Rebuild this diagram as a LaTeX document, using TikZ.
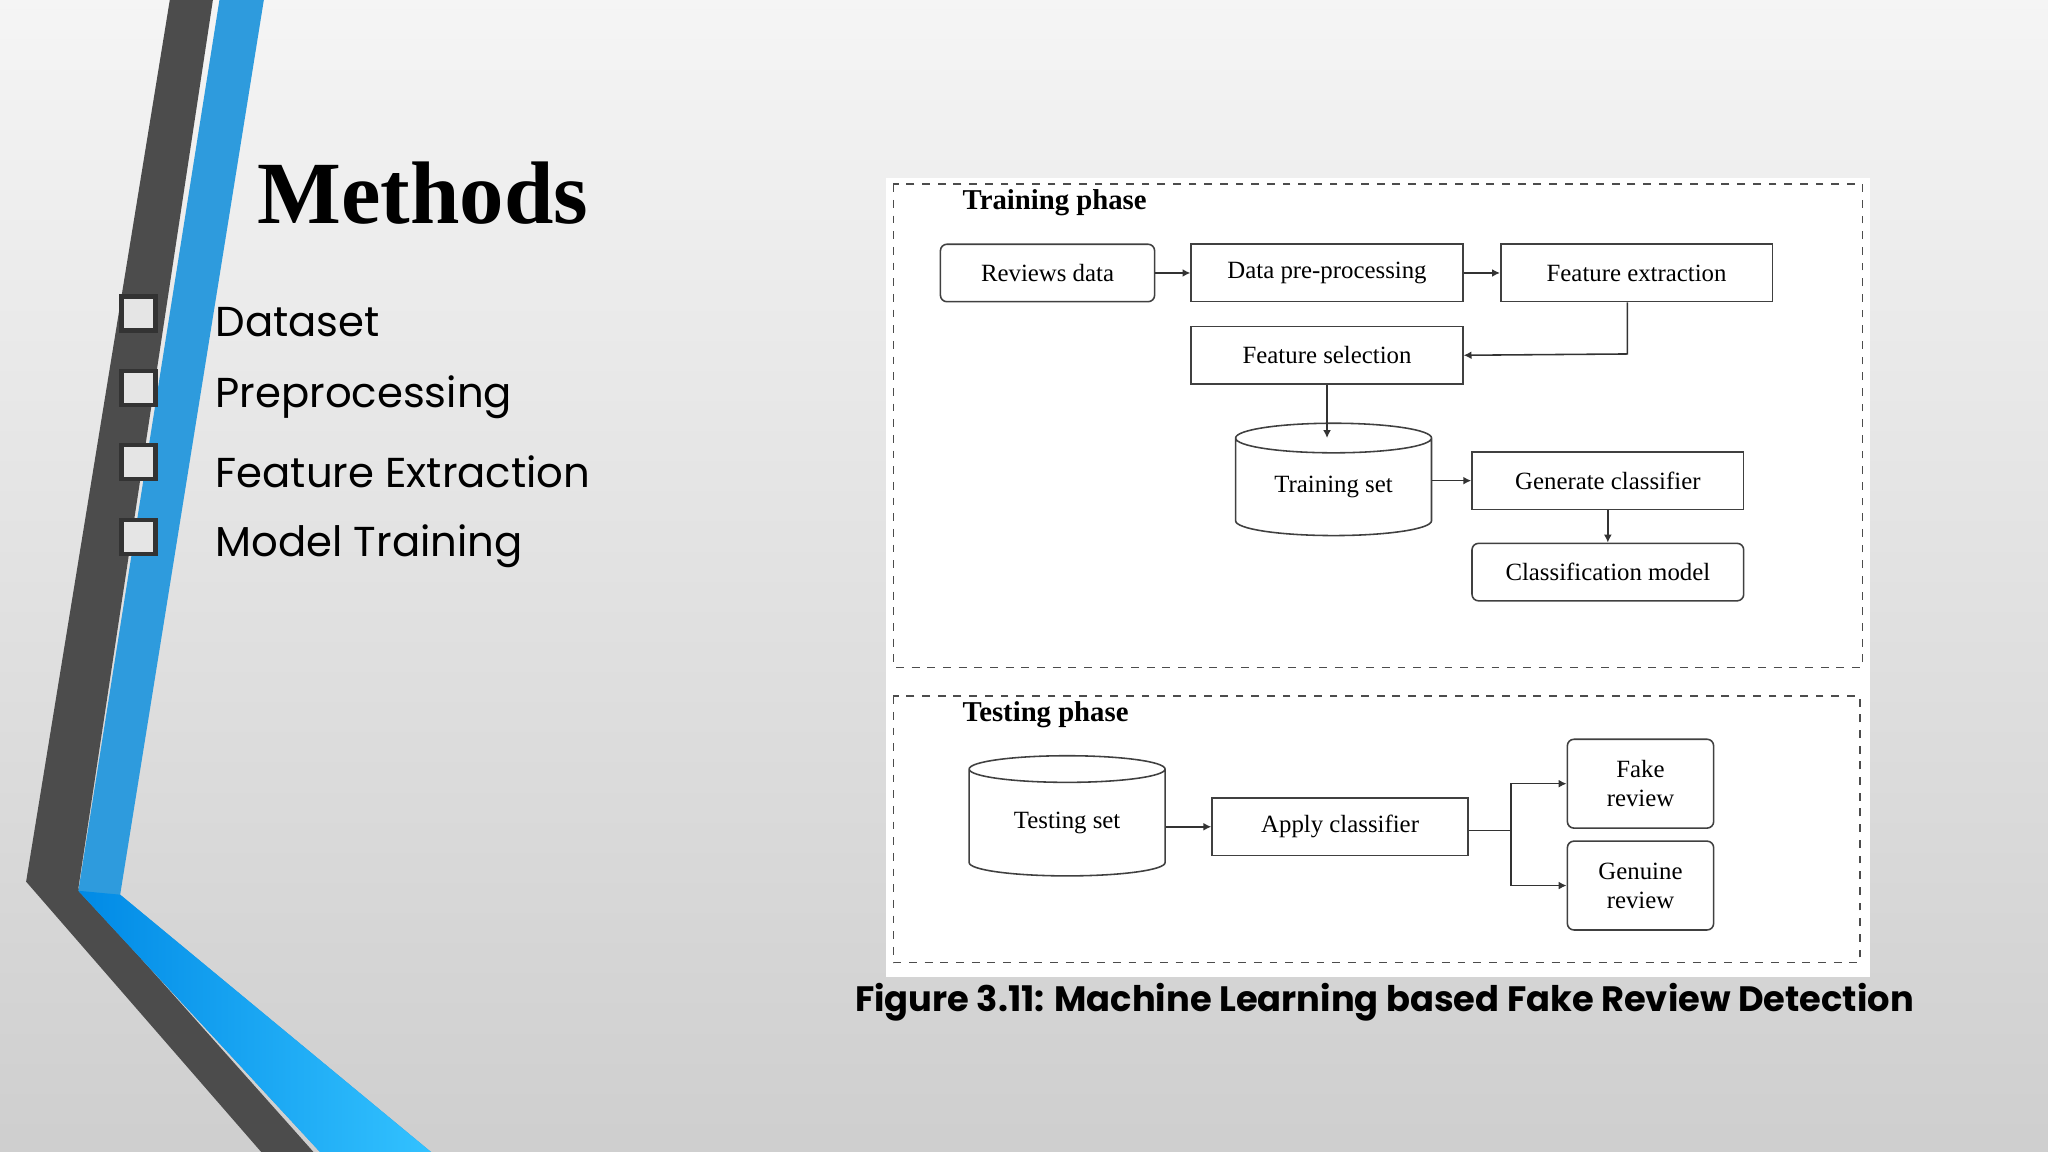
\documentclass[tikz,border=0pt]{standalone}
\usepackage{fontspec}
\setmainfont{Liberation Serif}
\newfontfamily\comic{Poppins}
\usetikzlibrary{shapes.geometric,arrows.meta}
\begin{document}
\begin{tikzpicture}[x=0.5pt,y=-0.5pt,
  box/.style={draw=black!75,line width=0.6pt,inner sep=0,font=\fontsize{9.5}{11}\selectfont,align=center},
  rbox/.style={box,rounded corners=2.5pt},
  cyl/.style={draw=black!75,line width=0.6pt,cylinder,shape border rotate=90,aspect=0.25,minimum width=75pt,inner sep=0,font=\fontsize{9.5}{11}\selectfont},
  arr/.style={-{Latex[length=3pt,width=3pt]},line width=0.6pt,black!80},
  ln/.style={line width=0.6pt,black!80},
  dashbox/.style={draw=black!70,dashed,line width=0.6pt},
  chk/.style={draw=black!80,line width=1.6pt,fill=gray!20,minimum size=13pt,inner sep=0},
  btxt/.style={anchor=west,font=\comic\fontsize{16}{18}\selectfont}]
\useasboundingbox (0,0) rectangle (1568,882);
\shade[top color=gray!8,bottom color=gray!38] (0,0) rectangle (1568,882);
% stripes
\fill[black!70] (130,0) -- (163,0) -- (60,680) -- (240,882) -- (200,882) -- (20,675) -- cycle;
\fill[cyan!75!blue!85] (168,0) -- (202,0) -- (92,685) -- (330,882) -- (245,882) -- (60,682) -- cycle;
\shade[left color=cyan!60!blue!90!black,right color=cyan!70!blue!80] (60,682) -- (92,685) -- (330,882) -- (245,882) -- cycle;
% title
\node[anchor=west,font=\bfseries\fontsize{34}{40}\selectfont] (title) at (190,148) {Methods};
\foreach \y/\t/\n in {243/Dataset/a,300/Preprocessing/b,357/Feature Extraction/c,414/Model Training/d}{
  \node[chk] (c\n) at (106,\y-3) {};
  \node[btxt] (t\n) at (158,\y+4) {\t};
}
% diagram
\fill[white] (678,136) rectangle (1432,748);
\draw[dashbox] (684,141) rectangle (1426,511);
\draw[dashbox] (684,533) rectangle (1424,737);
\node[anchor=west,font=\bfseries\fontsize{11}{12}\selectfont] (tp) at (730,155) {Training phase};
\node[anchor=west,font=\bfseries\fontsize{11}{12}\selectfont] (sp) at (730,547) {Testing phase};
\node[rbox,minimum width=82pt,minimum height=22pt] (rd) at (802,209) {Reviews data};
\node[box,minimum width=104pt,minimum height=22pt] (dp) at (1016,209) {Data pre-processing};
\node[box,minimum width=104pt,minimum height=22pt] (fe) at (1253,209) {Feature extraction};
\node[box,minimum width=104pt,minimum height=22pt] (fs) at (1016,272) {Feature selection};
\node[cyl,minimum height=43pt] (ts) at (1021,373) {Training set};
\node[box,minimum width=104pt,minimum height=22pt] (gc) at (1231,368) {Generate classifier};
\node[rbox,minimum width=104pt,minimum height=22pt] (cm) at (1231,438) {Classification model};
\node[cyl,minimum height=46pt] (tst) at (817,630) {Testing set};
\node[box,minimum width=98pt,minimum height=22pt] (ac) at (1026,633) {Apply classifier};
\node[rbox,minimum width=56pt,minimum height=34pt] (fk) at (1256,600) {Fake\\review};
\node[rbox,minimum width=56pt,minimum height=34pt] (gn) at (1256,678) {Genuine\\review};
\draw[arr] (rd) -- (dp);
\draw[arr] (dp) -- (fe);
\draw[arr] (fe.south -| 1246,0) -- (1246,271) -- (fs.east);
\draw[arr] (fs.south) -- (fs.south |- ts.before top);
\draw[arr] (ts.east |- gc) -- (gc.west);
\draw[arr] (gc) -- (cm);
\draw[arr] (tst.east |- ac) -- (ac.west);
\coordinate (sp1) at (1157,636);
\draw[ln] (ac.east |- sp1) -- (sp1);
\draw[arr] (sp1) |- (fk.west);
\draw[arr] (sp1) |- (gn.west);
\node[font=\comic\bfseries\fontsize{13.5}{16}\selectfont] (cap) at (1060,767) {Figure 3.11: Machine Learning based Fake Review Detection};
\end{tikzpicture}
\end{document}
